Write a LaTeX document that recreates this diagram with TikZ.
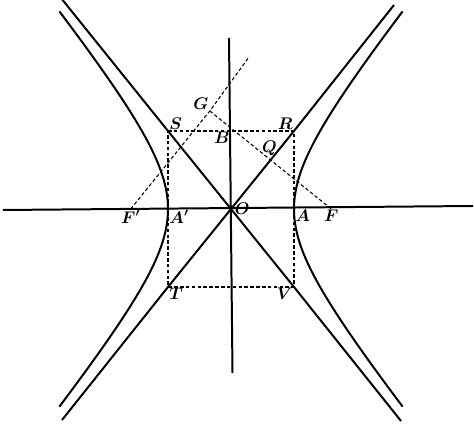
\documentclass[tikz,border=0pt]{standalone}
\begin{document}
\begin{tikzpicture}[x=0.3mm,y=0.3mm,
  curve/.style={line width=1.7pt},
  guide/.style={line width=0.9pt, dash pattern=on 3pt off 2pt},
  lbl/.style={font=\Large\boldmath, inner sep=1pt}]
\useasboundingbox (-231,-215) rectangle (243,209);
% Points
\coordinate (O) at (0,0);
\coordinate (A) at (63,0);
\coordinate (Ap) at (-63,0);
\coordinate (B) at (0,78);
\coordinate (R) at (63,78);
\coordinate (S) at (-63,78);
\coordinate (T) at (-63,-78);
\coordinate (V) at (63,-78);
\coordinate (F) at (100.3,0);
\coordinate (Fp) at (-100.3,0);
\coordinate (Q) at (39.6,49);
\coordinate (G) at (-21.2,98);
\coordinate (K) at (18,152);
% Axes
\coordinate (xl) at (-228,-1);
\coordinate (xr) at (242,3);
\coordinate (yt) at (-2,171);
\coordinate (yb) at (1.5,-164);
\draw[curve] (xl) -- (xr);
\draw[curve] (yt) -- (yb);
% Asymptotes
\coordinate (s1) at (-170,211);
\coordinate (s2) at (170,-212);
\coordinate (r1) at (163,204);
\coordinate (r2) at (-169,-211);
\draw[curve] (s1) -- (S) -- (O) -- (V) -- (s2);
\draw[curve] (r1) -- (R) -- (O) -- (T) -- (r2);
% Hyperbola
\draw[curve] plot[domain=-1.66:1.66, samples=60] ({63*cosh(\x)},{78*sinh(\x)});
\draw[curve] plot[domain=-1.66:1.66, samples=60] ({-63*cosh(\x)},{78*sinh(\x)});
% Dashed lines
\draw[guide] (S) -- (R) -- (V) -- (T) -- cycle;
\draw[guide] (Fp) -- (G) -- (K);
\draw[guide] (G) -- (Q) -- (F);
% Labels
\node[lbl, above right] (lS) at (S) {$S$};
\node[lbl, above left] (lR) at (R) {$R$};
\node[lbl, above left] (lG) at (G) {$G$};
\node[lbl, below left] (lB) at (B) {$B$};
\node[lbl, above=2pt, xshift=-1pt] (lQ) at (Q) {$Q$};
\node[lbl, right=2pt] (lO) at (O) {$O$};
\node[lbl, below right] (lA) at (A) {$A$};
\node[lbl, below right] (lAp) at (Ap) {$A'$};
\node[lbl, below] (lF) at (F) {$F$};
\node[lbl, below] (lFp) at (Fp) {$F'$};
\node[lbl, below right] (lT) at (T) {$T$};
\node[lbl, below left] (lV) at (V) {$V$};
\end{tikzpicture}
\end{document}
